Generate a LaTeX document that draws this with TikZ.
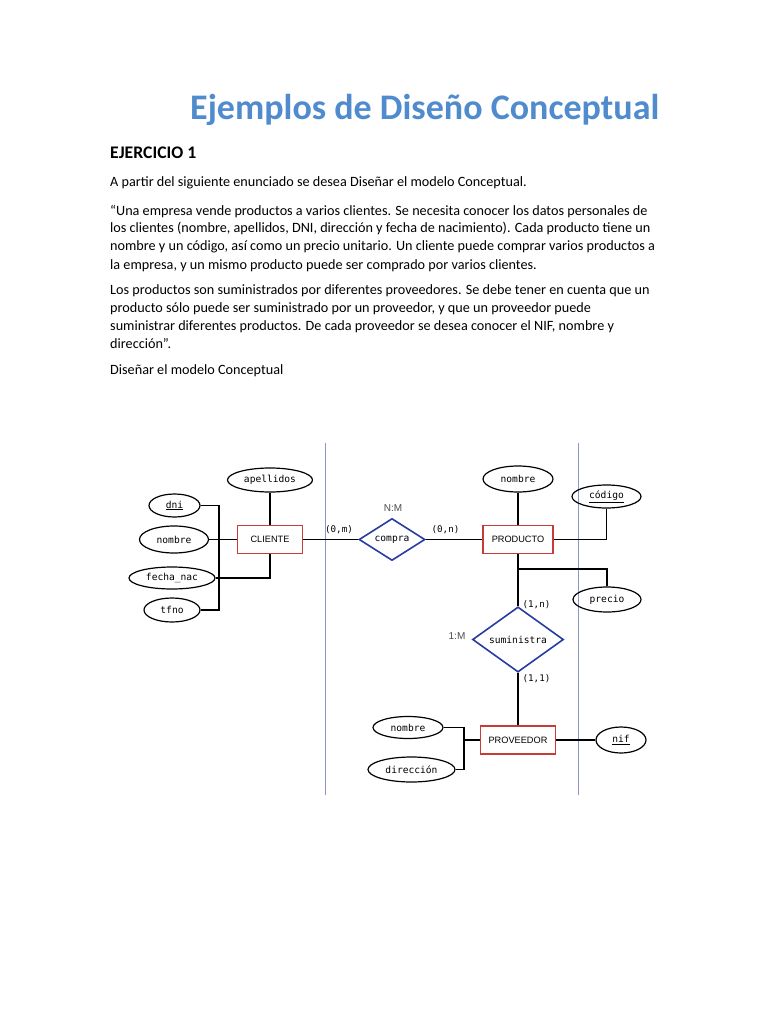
\documentclass[tikz,border=0pt]{standalone}
\usepackage{fontspec}
\setmainfont{Carlito}
\newfontfamily\monoer{DejaVu Sans Mono}
\newfontfamily\sanser{Liberation Sans}
\usetikzlibrary{shapes.geometric}
\definecolor{titulo}{RGB}{80,140,205}
\definecolor{rojoent}{RGB}{200,60,55}
\definecolor{azulrel}{RGB}{40,60,160}
\definecolor{guia}{RGB}{140,150,200}
\tikzset{
  texto/.style={anchor=base west,inner sep=0,font=\fontsize{14.2}{17}\selectfont},
  atributo/.style={draw,ellipse,line width=1.2pt,inner sep=0,minimum height=24pt,font=\monoer\fontsize{9.6}{10}\selectfont},
  entidad/.style={draw=rojoent,line width=1.6pt,minimum height=28pt,inner sep=0,font=\sanser\fontsize{9.2}{10}\selectfont},
  relacion/.style={draw=azulrel,diamond,line width=1.6pt,inner sep=0,font=\monoer\fontsize{9.6}{10}\selectfont},
  card/.style={inner sep=0,font=\monoer\fontsize{9.2}{10}\selectfont},
  tipo/.style={inner sep=0,text=black!70,font=\sanser\fontsize{10}{12}\selectfont},
  linea/.style={line width=1.4pt}
}
\begin{document}
\begin{tikzpicture}[x=1pt,y=-1pt]
\path[fill=white,use as bounding box] (0,0) rectangle (768,1024);

\node[texto,text=titulo,font=\fontsize{36}{40}\selectfont\bfseries] (titulo) at (190,120) {Ejemplos de Diseño Conceptual};
\node[texto,font=\fontsize{17.7}{20}\selectfont\bfseries] (ejercicio) at (110,159) {EJERCICIO 1};
\node[texto] (l1) at (110,187) {A partir del siguiente enunciado se desea Diseñar el modelo Conceptual.};
\node[texto] (l2) at (110,215) {“Una empresa vende productos a varios clientes. Se necesita conocer los datos personales de};
\node[texto] (l3) at (110,233) {los clientes (nombre, apellidos, DNI, dirección y fecha de nacimiento). Cada producto tiene un};
\node[texto] (l4) at (110,251) {nombre y un código, así como un precio unitario. Un cliente puede comprar varios productos a};
\node[texto] (l5) at (110,269) {la empresa, y un mismo producto puede ser comprado por varios clientes.};
\node[texto] (l6) at (110,294) {Los productos son suministrados por diferentes proveedores. Se debe tener en cuenta que un};
\node[texto] (l7) at (110,312) {producto sólo puede ser suministrado por un proveedor, y que un proveedor puede};
\node[texto] (l8) at (110,330) {suministrar diferentes productos. De cada proveedor se desea conocer el NIF, nombre y};
\node[texto] (l9) at (110,348) {dirección”.};
\node[texto] (l10) at (110,374) {Diseñar el modelo Conceptual};

\foreach \x in {325,578}
	\draw[guia] (\x,443) -- (\x,795);

\node[atributo,minimum width=85pt] (apellidos) at (270,480) {apellidos};
\node[atributo,minimum width=51pt,minimum height=23pt] (dni) at (174.5,505.5) {\underline{dni}};
\node[atributo,minimum width=69pt,minimum height=27pt] (nombreC) at (174,539.5) {nombre};
\node[atributo,minimum width=86pt,minimum height=22pt] (fechanac) at (172,578) {fecha\_nac};
\node[atributo,minimum width=56pt] (tfno) at (172,610) {tfno};
\node[entidad,minimum width=65pt] (cliente) at (270,539.5) {CLIENTE};
\node[relacion,minimum width=66pt,minimum height=39pt] (compra) at (392,539.5) {compra};
\node[entidad,minimum width=70pt] (producto) at (518,539.5) {PRODUCTO};
\node[atributo,minimum width=70pt,minimum height=26pt] (nombreP) at (518,479) {nombre};
\node[atributo,minimum width=69pt,minimum height=23pt] (codigo) at (606.5,496.5) {\underline{código}};
\node[atributo,minimum width=68pt,minimum height=25pt] (precio) at (607,599.5) {precio};
\node[relacion,minimum width=91pt,minimum height=51pt] (suministra) at (518,639.5) {suministra};
\node[entidad,minimum width=75pt] (proveedor) at (518,740) {PROVEEDOR};
\node[atributo,minimum width=50pt,minimum height=26pt] (nif) at (621,740) {\underline{nif}};
\node[atributo,minimum width=70pt,minimum height=22pt] (nombreV) at (408,727.5) {nombre};
\node[atributo,minimum width=87pt,minimum height=25pt] (direccion) at (411.5,769.5) {dirección};

\node[card] (cardCc) at (339,530) {(0,m)};
\node[card] (cardCp) at (445.5,530) {(0,n)};
\node[card] (cardSp) at (536.5,605) {(1,n)};
\node[card] (cardSv) at (536.5,679) {(1,1)};
\node[tipo] (tipoC) at (393,508) {N:M};
\node[tipo] (tipoS) at (457,636) {1:M};

\coordinate (jC) at (219,539.5);
\coordinate (jP) at (518,569);
\coordinate (jV) at (464,740);
\draw[linea] (apellidos) -- (cliente);
\draw[linea] (dni.east) -| (jC) |- (tfno.east);
\draw[linea] (nombreC.east) -- (cliente.west);
\draw[linea] (fechanac.east) -| (cliente.south);
\draw[linea] (cliente) -- (compra);
\draw[linea] (compra) -- (producto);
\draw[linea] (nombreP) -- (producto);
\draw[linea] (producto.east) -| (codigo.south);
\draw[linea] (producto) -- (suministra);
\draw[linea] (jP) -| (precio.north);
\draw[linea] (suministra) -- (proveedor);
\draw[linea] (proveedor) -- (nif);
\draw[linea] (nombreV.east) -| (jV) -- (proveedor.west);
\draw[linea] (direccion.east) -| (jV);
\end{tikzpicture}
\end{document}
